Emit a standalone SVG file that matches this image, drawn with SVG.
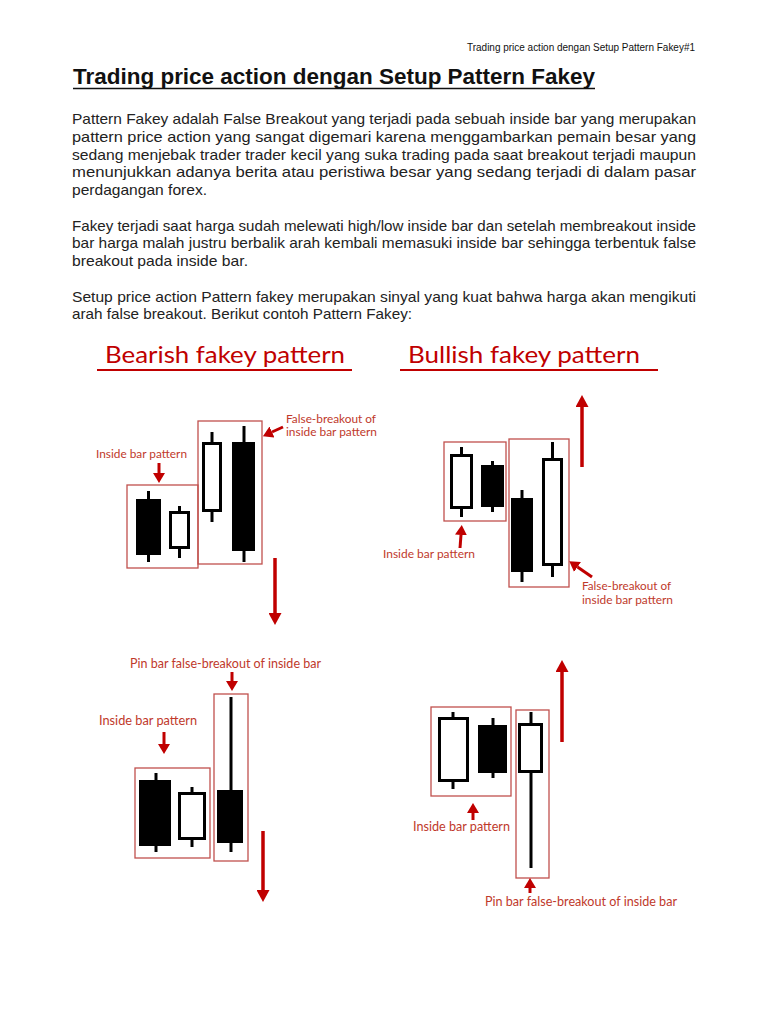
<svg xmlns="http://www.w3.org/2000/svg" width="768" height="1024" viewBox="0 0 768 1024">
<style>
.hdr{font-family:"Liberation Sans Narrow","Liberation Sans",Arial,sans-serif;font-size:10px;fill:#111}
.ttl{font-family:"Liberation Sans Narrow","Liberation Sans",Arial,sans-serif;font-size:22px;font-weight:bold;fill:#111}
.body{font-family:"Liberation Sans Narrow","Liberation Sans",Arial,sans-serif;font-size:15px;fill:#222}
.ptitle{font-family:Lato,"Open Sans",sans-serif;font-size:24px;fill:#c00000}
.lbl{font-family:Lato,"Open Sans",sans-serif;font-size:12px;fill:#c0392b}
.lbl2{font-family:Lato,"Open Sans",sans-serif;font-size:12.5px;fill:#c0392b}
.box{fill:none;stroke:#c0504d;stroke-width:1.3}
.wick{stroke:#000;stroke-width:3}
.bk{fill:#000}
.wh{fill:#fff;stroke:#000;stroke-width:3}
.arr{stroke:#c00000;stroke-width:3.5;fill:none}
.arrs{stroke:#c00000;stroke-width:3;fill:none}
.ul{stroke:#c00000;stroke-width:2}
</style>
<defs>
<marker id="big" markerUnits="userSpaceOnUse" markerWidth="12" markerHeight="13" viewBox="0 0 12 13" refX="0" refY="6.5" orient="auto"><path d="M0,0 L12,6.5 L0,13 z" fill="#c00000"/></marker>
<marker id="sm" markerUnits="userSpaceOnUse" markerWidth="10" markerHeight="12" viewBox="0 0 10 12" refX="0" refY="6" orient="auto"><path d="M0,0 L10,6 L0,12 z" fill="#c00000"/></marker>
</defs>
<rect width="768" height="1024" fill="#fff"/>

<g id="header">
<text class="hdr" x="467" y="51" textLength="228" lengthAdjust="spacingAndGlyphs">Trading price action dengan Setup Pattern Fakey#1</text>
<text class="ttl" x="73" y="84" textLength="522" lengthAdjust="spacingAndGlyphs">Trading price action dengan Setup Pattern Fakey</text>
<line x1="73" y1="88.5" x2="595" y2="88.5" stroke="#111" stroke-width="1.6"/>
</g>

<g id="body-text">
<text class="body" x="72" y="124" textLength="624" lengthAdjust="spacingAndGlyphs">Pattern Fakey adalah False Breakout yang terjadi pada sebuah inside bar yang merupakan</text>
<text class="body" x="72" y="142" textLength="624" lengthAdjust="spacingAndGlyphs">pattern price action yang sangat digemari karena menggambarkan pemain besar yang</text>
<text class="body" x="72" y="160" textLength="624" lengthAdjust="spacingAndGlyphs">sedang menjebak trader trader kecil yang suka trading pada saat breakout terjadi  maupun</text>
<text class="body" x="72" y="177" textLength="624" lengthAdjust="spacingAndGlyphs">menunjukkan adanya berita atau peristiwa besar yang sedang terjadi di dalam pasar</text>
<text class="body" x="72" y="195" textLength="135" lengthAdjust="spacingAndGlyphs">perdagangan forex.</text>
<text class="body" x="72" y="231" textLength="624" lengthAdjust="spacingAndGlyphs">Fakey terjadi saat harga sudah melewati high/low inside bar dan  setelah membreakout inside</text>
<text class="body" x="72" y="248" textLength="624" lengthAdjust="spacingAndGlyphs">bar harga malah justru berbalik arah kembali memasuki inside bar sehingga terbentuk false</text>
<text class="body" x="72" y="266" textLength="176" lengthAdjust="spacingAndGlyphs">breakout pada inside bar.</text>
<text class="body" x="72" y="302" textLength="624" lengthAdjust="spacingAndGlyphs">Setup price action Pattern fakey merupakan sinyal yang kuat bahwa harga akan mengikuti</text>
<text class="body" x="72" y="319" textLength="340" lengthAdjust="spacingAndGlyphs">arah false breakout. Berikut contoh Pattern Fakey:</text>
</g>

<!-- Bearish fakey pattern -->
<g id="bearish">
<text class="ptitle" x="105" y="363" textLength="240" lengthAdjust="spacingAndGlyphs">Bearish fakey pattern</text>
<line class="ul" x1="97" y1="370" x2="352" y2="370"/>
<rect class="box" x="127" y="485" width="71" height="83"/>
<rect class="box" x="198" y="421" width="64" height="143"/>
<line class="wick" x1="148.5" y1="491" x2="148.5" y2="562"/>
<rect class="bk" x="136" y="499" width="25" height="56"/>
<line class="wick" x1="179.5" y1="506" x2="179.5" y2="558"/>
<rect class="wh" x="170.5" y="512.5" width="18" height="35"/>
<line class="wick" x1="212" y1="432" x2="212" y2="522"/>
<rect class="wh" x="203.5" y="443.5" width="17" height="67"/>
<line class="wick" x1="244" y1="426" x2="244" y2="562"/>
<rect class="bk" x="232" y="442" width="23" height="109"/>
<text class="lbl" x="96" y="458" textLength="91" lengthAdjust="spacingAndGlyphs">Inside bar pattern</text>
<text class="lbl" x="286" y="423" textLength="90" lengthAdjust="spacingAndGlyphs">False-breakout of</text>
<text class="lbl" x="286" y="436" textLength="91" lengthAdjust="spacingAndGlyphs">inside bar pattern</text>
</g>

<!-- Bullish fakey pattern -->
<g id="bullish">
<text class="ptitle" x="408" y="363" textLength="232" lengthAdjust="spacingAndGlyphs">Bullish fakey pattern</text>
<line class="ul" x1="400" y1="370" x2="658" y2="370"/>
<rect class="box" x="444" y="442" width="62" height="79"/>
<rect class="box" x="509" y="439" width="60" height="148"/>
<line class="wick" x1="461.5" y1="447" x2="461.5" y2="517"/>
<rect class="wh" x="451.5" y="455.5" width="20" height="52"/>
<line class="wick" x1="492.5" y1="461" x2="492.5" y2="512"/>
<rect class="bk" x="481" y="465" width="23" height="42"/>
<line class="wick" x1="522" y1="490" x2="522" y2="582"/>
<rect class="bk" x="511" y="498" width="22" height="74"/>
<line class="wick" x1="552.5" y1="442" x2="552.5" y2="577"/>
<rect class="wh" x="543.5" y="459.5" width="18" height="105"/>
<text class="lbl" x="383" y="558" textLength="92" lengthAdjust="spacingAndGlyphs">Inside bar pattern</text>
<text class="lbl" x="582" y="590" textLength="89" lengthAdjust="spacingAndGlyphs">False-breakout of</text>
<text class="lbl" x="582" y="604" textLength="91" lengthAdjust="spacingAndGlyphs">inside bar pattern</text>
</g>

<!-- Pin bar bearish -->
<g id="pinbar-bearish">
<rect class="box" x="135" y="768" width="75" height="90"/>
<rect class="box" x="214" y="694" width="34" height="167"/>
<line class="wick" x1="156" y1="773" x2="156" y2="852"/>
<rect class="bk" x="139" y="780" width="32" height="66"/>
<line class="wick" x1="192" y1="787" x2="192" y2="847"/>
<rect class="wh" x="179.5" y="793.5" width="25" height="45"/>
<line class="wick" x1="231" y1="697" x2="231" y2="852"/>
<rect class="bk" x="217" y="790" width="26" height="53"/>
<text class="lbl2" x="130" y="668" textLength="191" lengthAdjust="spacingAndGlyphs">Pin bar false-breakout of inside bar</text>
<text class="lbl2" x="99" y="725" textLength="98" lengthAdjust="spacingAndGlyphs">Inside bar pattern</text>
</g>

<!-- Pin bar bullish -->
<g id="pinbar-bullish">
<rect class="box" x="431" y="707" width="80" height="89"/>
<rect class="box" x="516" y="710" width="33" height="168"/>
<line class="wick" x1="453" y1="712" x2="453" y2="789"/>
<rect class="wh" x="439.5" y="718.5" width="28" height="62"/>
<line class="wick" x1="493" y1="718" x2="493" y2="778"/>
<rect class="bk" x="478" y="725" width="29" height="48"/>
<line class="wick" x1="531" y1="712" x2="531" y2="868"/>
<rect class="wh" x="519.5" y="724.5" width="22" height="47"/>
<text class="lbl2" x="413" y="831" textLength="97" lengthAdjust="spacingAndGlyphs">Inside bar pattern</text>
<text class="lbl2" x="485" y="906" textLength="192" lengthAdjust="spacingAndGlyphs">Pin bar false-breakout of inside bar</text>
</g>

<g id="connectors">
<line class="arrs" x1="159" y1="463" x2="159" y2="473" marker-end="url(#sm)"/>
<line class="arrs" x1="283" y1="427" x2="272" y2="432" marker-end="url(#sm)"/>
<line class="arr" x1="275" y1="558" x2="275" y2="613" marker-end="url(#big)"/>
<line class="arr" x1="582" y1="467" x2="582" y2="407" marker-end="url(#big)"/>
<line class="arrs" x1="460" y1="548" x2="461" y2="535" marker-end="url(#sm)"/>
<line class="arrs" x1="592" y1="577" x2="577.5" y2="567" marker-end="url(#sm)"/>
<line class="arrs" x1="232" y1="672" x2="232" y2="681" marker-end="url(#sm)"/>
<line class="arrs" x1="164" y1="732" x2="164" y2="744" marker-end="url(#sm)"/>
<line class="arr" x1="263" y1="831" x2="263" y2="890" marker-end="url(#big)"/>
<line class="arr" x1="562" y1="742" x2="562" y2="672" marker-end="url(#big)"/>
<line class="arrs" x1="473" y1="820" x2="473" y2="813" marker-end="url(#sm)"/>
<line class="arrs" x1="530" y1="893" x2="530" y2="888" marker-end="url(#sm)"/>
</g>
</svg>
